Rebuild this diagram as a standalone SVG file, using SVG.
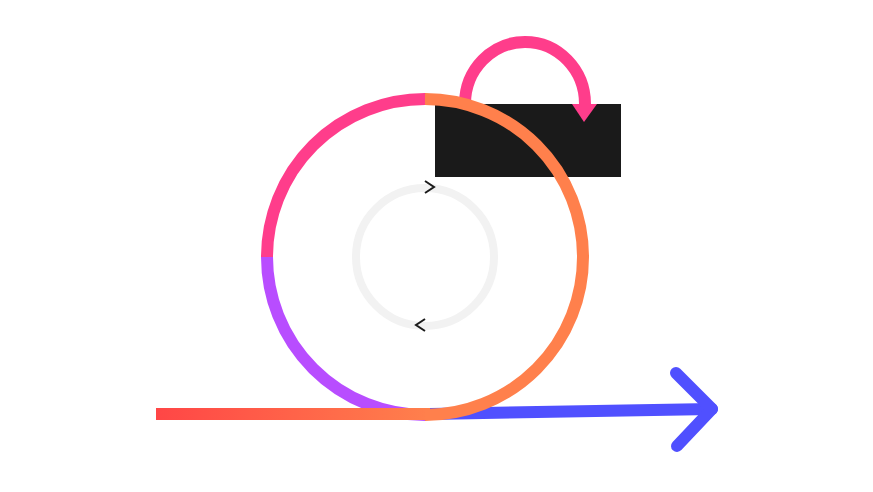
<svg xmlns="http://www.w3.org/2000/svg" width="873" height="492" viewBox="0 0 873 492">
<defs>
<linearGradient id="g1" x1="156" y1="0" x2="430" y2="0" gradientUnits="userSpaceOnUse"><stop offset="0" stop-color="#ff4646"/><stop offset="1" stop-color="#ff804c"/></linearGradient>
</defs>
<style>.s{fill:none;stroke-width:12}.c{fill:none;stroke:#1a1a1a;stroke-width:2}</style>
<rect width="873" height="492" fill="#fff"/>
<g id="inner"><circle cx="425" cy="257" r="69" fill="none" stroke="#f2f2f2" stroke-width="8"/>
<path class="c" d="M425 181 L434 187 L425 193"/><path class="c" d="M425 319 L416 325 L425 331"/></g>
<g id="box"><rect x="435" y="104" width="186" height="73" fill="#1a1a1a"/></g>
<g id="loop"><path class="s" d="M465 104 A60 62 0 0 1 585 104" stroke="#ff3d8b"/><path d="M572 104 L597 104 L584 122 Z" fill="#ff3d8b"/></g>
<g id="connectors">
<path class="s" d="M430 414 L712 409" stroke="#5050ff" stroke-linecap="round"/>
<path class="s" d="M676 373 L712 409 L677 446" stroke="#5050ff" stroke-linecap="round" stroke-linejoin="round"/>
</g>
<g id="ring">
<path class="s" d="M267 257 A158 158 0 0 1 425 99" stroke="#ff3d8b"/>
<path class="s" d="M425 415 A158 158 0 0 1 267 257" stroke="#b84dff"/>
</g>
<g id="line"><path class="s" d="M156 414 L430 414" stroke="url(#g1)"/></g>
<g id="ring2"><path class="s" d="M425 99 A158 158 0 0 1 425 415" stroke="#ff804c"/></g>
</svg>
